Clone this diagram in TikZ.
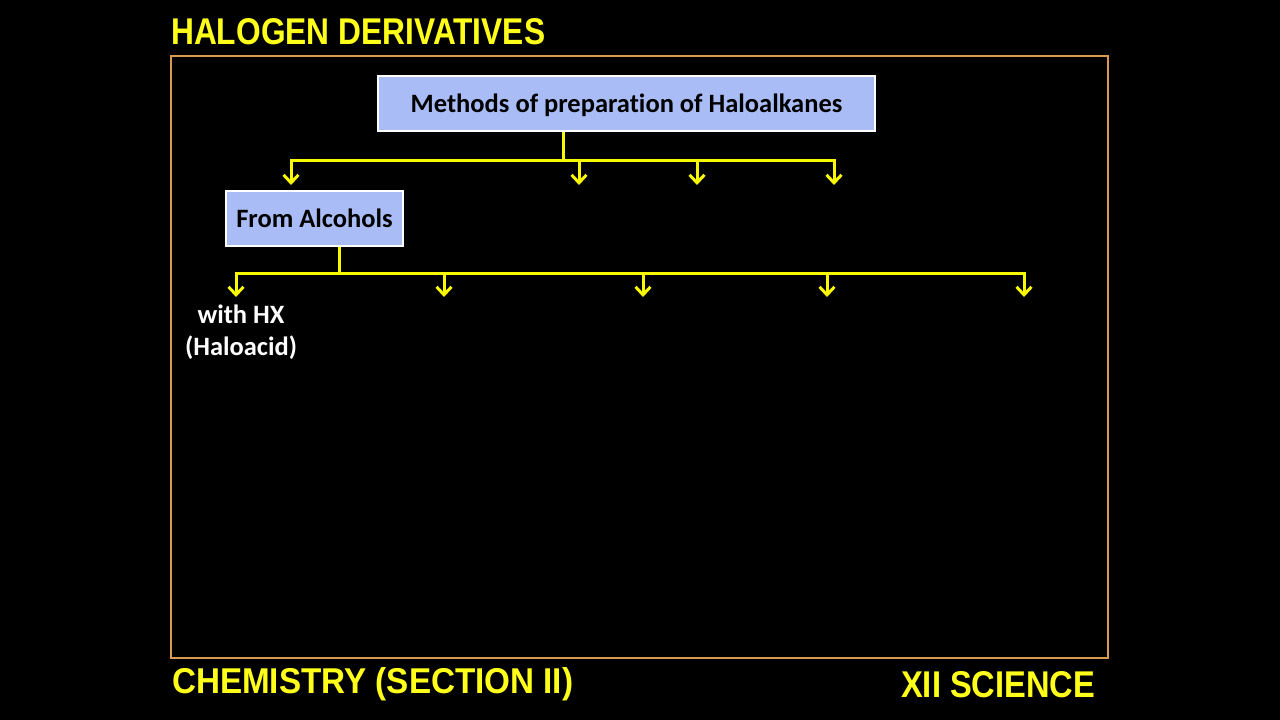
\documentclass[tikz,border=0pt]{standalone}
\usepackage{fontspec}
\setmainfont{Carlito}[Ligatures=NoCommon]
\newfontfamily\capfont{Liberation Sans}
\usetikzlibrary{arrows.meta}
\definecolor{boxblue}{HTML}{A9BCF5}
\definecolor{lineyellow}{HTML}{F8F800}
\definecolor{frameorange}{HTML}{D99A50}
\definecolor{titleyellow}{HTML}{FFFF1A}
\begin{document}
\begin{tikzpicture}[x=1pt,y=-1pt,
  box/.style={draw=white, line width=1.5pt, fill=boxblue, text=black, inner sep=0pt,
    text depth=0pt, font=\bfseries\fontsize{26.5}{30}\selectfont},
  link/.style={draw=lineyellow, line width=3pt},
  arr/.style={-{Straight Barb[length=8pt,width=15pt]}},
  lbl/.style={text=white, align=center, inner sep=0pt, font=\bfseries\fontsize{26.5}{32}\selectfont},
  captext/.style={text=titleyellow, inner sep=0pt, anchor=base west}
]
\useasboundingbox[fill=black] (0,0) rectangle (1280,720);
% frame
\draw[frameorange, line width=2pt] (171,56) rectangle (1108,658);
% captions
\node[captext] (title) at (171,45) {\resizebox{374pt}{26pt}{\capfont\bfseries HALOGEN DERIVATIVES}};
\node[captext] (subj) at (172,693) {\resizebox{401pt}{26pt}{\capfont\bfseries CHEMISTRY (SECTION II)}};
\node[captext] (cls) at (901,697) {\resizebox{194pt}{26pt}{\capfont\bfseries XII SCIENCE}};
% boxes
\node[box, minimum width=497pt, minimum height=55pt] (m) at (626.5,103.5) {Methods of preparation of Haloalkanes};
\node[box, minimum width=177pt, minimum height=55pt] (fa) at (314.5,218.5) {From Alcohols};
% first level
\coordinate (j1) at (563,160);
\coordinate (t1) at (291,185);
\coordinate (t2) at (579,185);
\coordinate (t3) at (697,185);
\coordinate (t4) at (834,185);
\draw[link] (m.south -| j1) -- (j1);
\draw[link,arr] (j1) -| (t1);
\draw[link,arr] (j1) -| (t4);
\draw[link,arr] (t2 |- j1) -- (t2);
\draw[link,arr] (t3 |- j1) -- (t3);
% second level
\coordinate (j2) at (339,273);
\coordinate (a1) at (236,297);
\coordinate (a2) at (444,297);
\coordinate (a3) at (643,297);
\coordinate (a4) at (827,297);
\coordinate (a5) at (1024,297);
\draw[link] (fa.south -| j2) -- (j2);
\draw[link,arr] (j2) -| (a1);
\draw[link,arr] (j2) -| (a5);
\draw[link,arr] (a2 |- j2) -- (a2);
\draw[link,arr] (a3 |- j2) -- (a3);
\draw[link,arr] (a4 |- j2) -- (a4);
\node[lbl, anchor=north] (hx) at (241,305) {with HX\\(Haloacid)};
\end{tikzpicture}
\end{document}
